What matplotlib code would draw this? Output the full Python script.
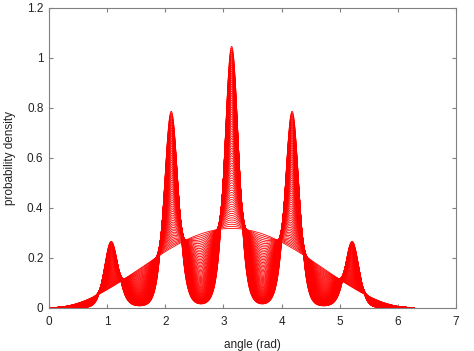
import numpy as np
import matplotlib
matplotlib.use("Agg")
import matplotlib.pyplot as plt

# p(x) ~ sin^2(x/2) * exp(beta * cos(6x)), normalised; beta swept from 0 up
beta_max = 2.05
n_curves = 80
n_fold = 6
x_ticks = [0, 1, 2, 3, 4, 5, 6, 7]
y_ticks = [0, 0.2, 0.4, 0.6, 0.8, 1, 1.2]
y_tick_labels = ["0", "0.2", "0.4", "0.6", "0.8", "1", "1.2"]

plt.rcParams['font.family'] = ['Liberation Sans', 'DejaVu Sans']

x = np.linspace(0, 2 * np.pi, 600)
betas = np.linspace(0, beta_max, n_curves)

fig = plt.figure(figsize=(4.74, 3.51), dpi=100)
ax = fig.add_axes([49 / 474, 1 - 308 / 351, 407 / 474, 300 / 351])

for b in betas:
    # normalisation: integral over [0, 2pi] is pi * I0(beta)
    p = np.sin(x / 2) ** 2 * np.exp(b * np.cos(n_fold * x)) / (np.pi * np.i0(b))
    ax.plot(x, p, color='red', lw=0.6)

ax.set_xlim(0, 7)
ax.set_ylim(0, 1.2)
ax.set_xticks(x_ticks)
ax.set_yticks(y_ticks)
ax.set_yticklabels(y_tick_labels)

for s in ax.spines.values():
    s.set_color('#808080')
ax.tick_params(direction='in', length=3, width=0.8, color='#808080',
               top=True, right=True, labelsize=8.5, labelcolor='#222222')
ax.tick_params(axis='x', pad=6)
ax.tick_params(axis='y', pad=4)

ax.set_xlabel("angle (rad)", fontsize=8.5, labelpad=8, color='#222222')
ax.set_ylabel("probability density", fontsize=8.5, labelpad=8, color='#222222')

fig.savefig("out.png", dpi=100)
